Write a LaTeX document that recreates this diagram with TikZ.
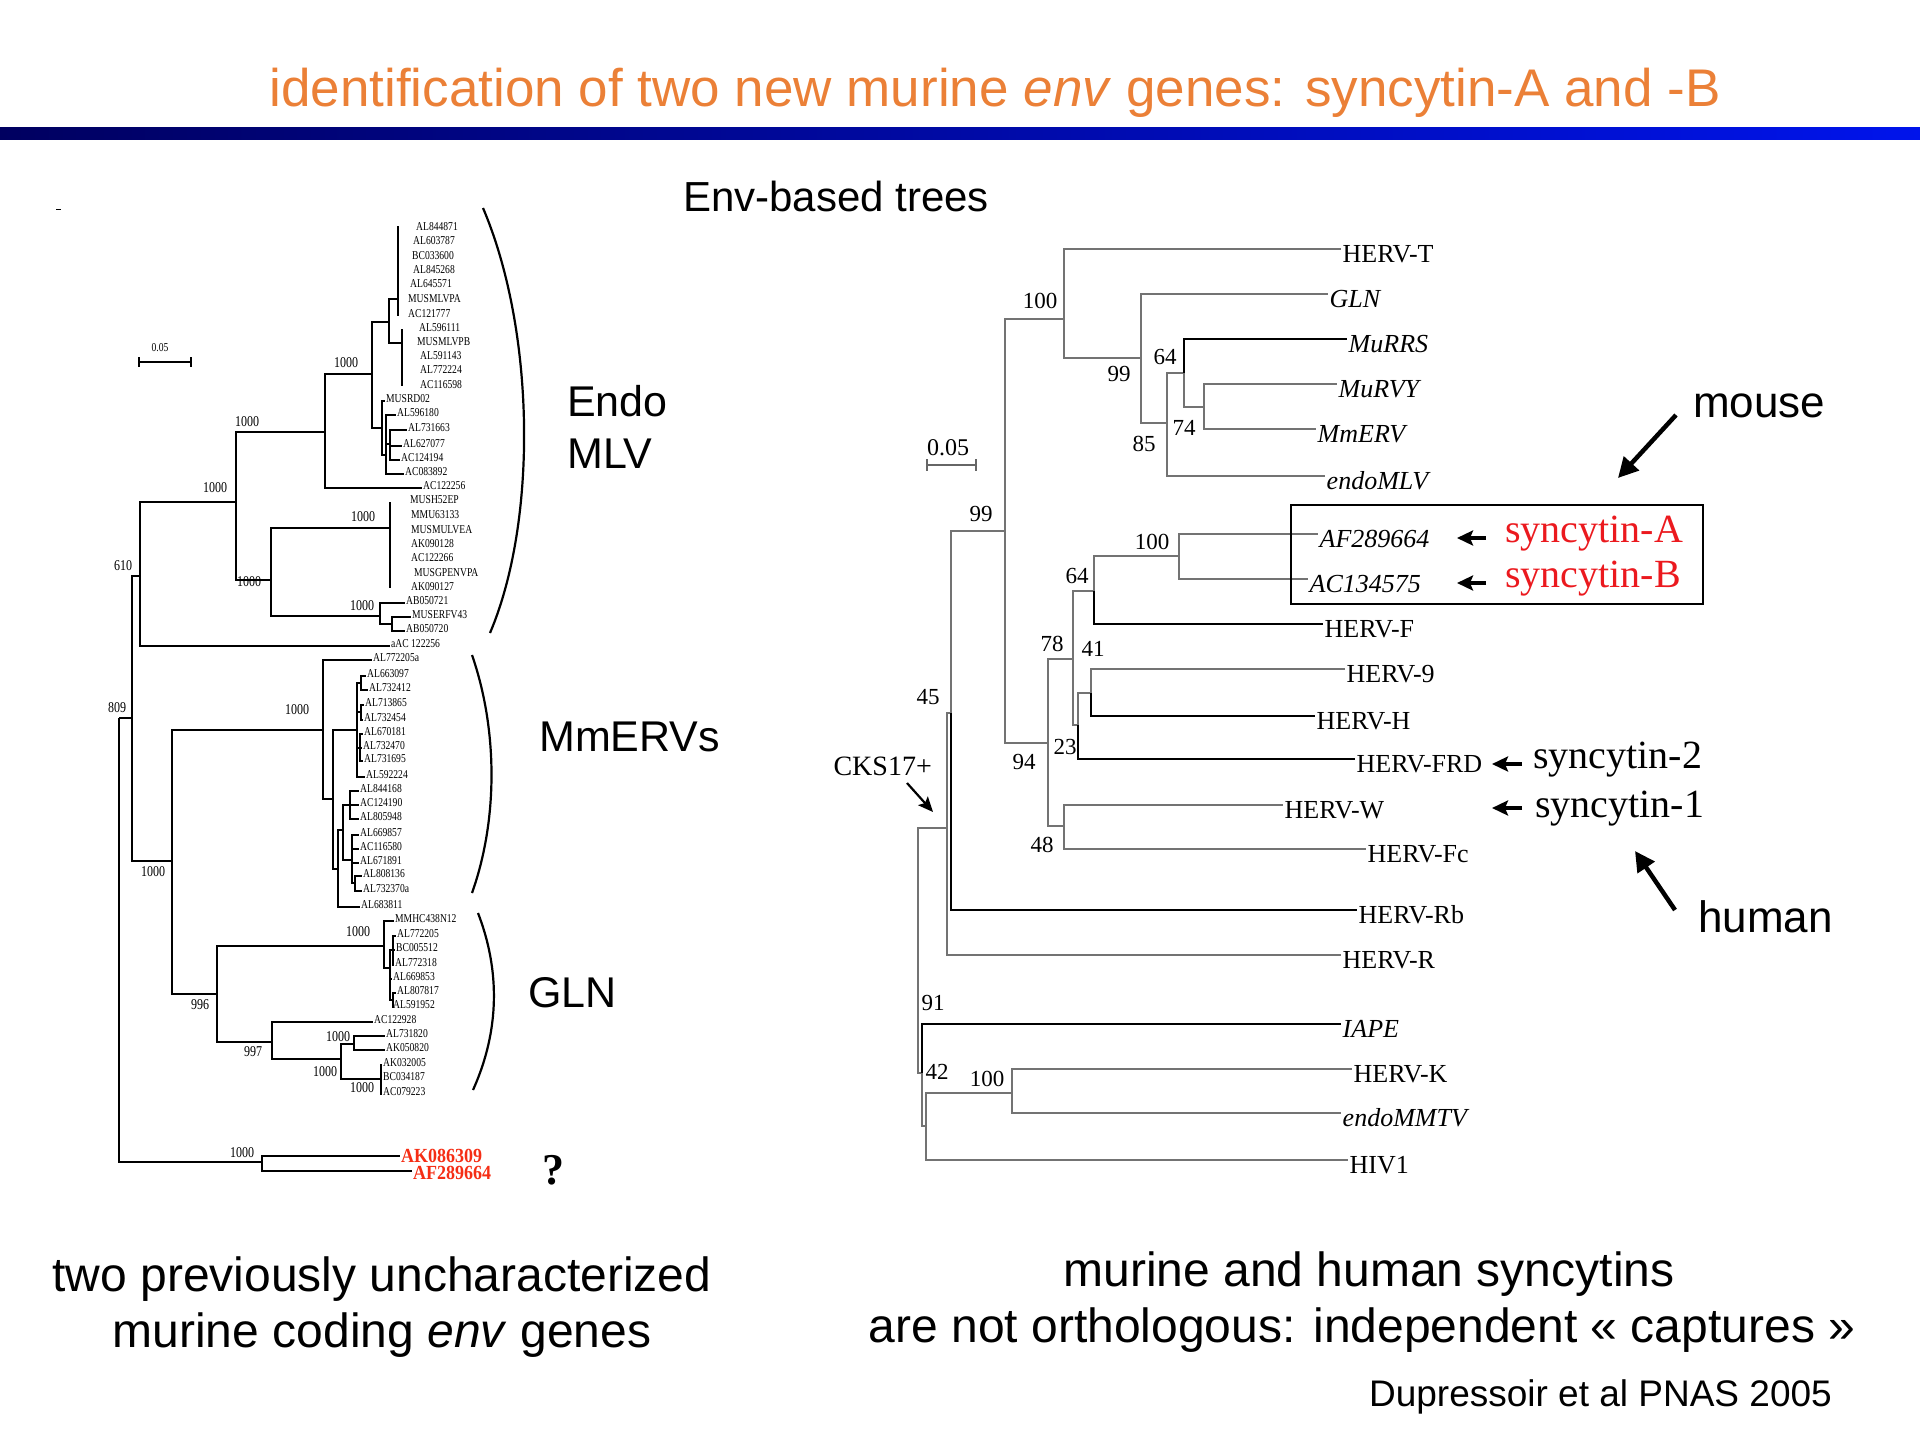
\documentclass[tikz,border=0pt]{standalone}
\usepackage{fontspec}
\setmainfont{Liberation Sans}
\newfontfamily\treefont{Liberation Serif}
\newfontfamily\condfont[FakeStretch=0.8]{Liberation Serif}
\newfontfamily\redfont[FakeStretch=0.9]{Liberation Serif}
\usetikzlibrary{arrows.meta}
\definecolor{titleorange}{RGB}{235,128,55}
\definecolor{barnavy}{RGB}{0,0,96}
\definecolor{barblue}{RGB}{0,20,235}
\definecolor{synred}{RGB}{235,25,30}
\definecolor{accred}{RGB}{245,45,20}
\newcommand{\fsz}[1]{\fontsize{#1}{#1}\selectfont}

\begin{document}
\begin{tikzpicture}[x=1pt, y=-1pt,
    lbranch/.style={line width=1.6pt},
    rbranch/.style={line width=1.4pt, black!55},
    rbranchk/.style={line width=1.4pt, black},
    lleaf/.style={anchor=base west, inner xsep=1pt, inner ysep=0pt, yshift=-1pt, font=\condfont\fsz{12}},
    lboot/.style={inner sep=0pt, font=\condfont\fsz{15}},
    rleaf/.style={anchor=base west, inner xsep=1.5pt, inner ysep=0pt, yshift=-13pt, font=\treefont\fsz{26}},
    rboot/.style={inner sep=0pt, font=\treefont\fsz{23}},
    clade/.style={anchor=base west, inner sep=0pt, font=\fsz{43}},
    syn/.style={anchor=base west, inner sep=0pt, font=\treefont\fsz{40}},
    btxt/.style={anchor=base, inner sep=0pt, font=\fsz{48}},
    sarrow/.style={line width=3.5pt, -{Stealth[length=16pt, width=15pt, inset=3pt]}},
    bigarrow/.style={line width=4.5pt, -{Triangle[length=20pt, width=20pt]}}]
\useasboundingbox (0,0) rectangle (1920,1440);

% title and bar
\node[anchor=base, inner sep=0pt, text=titleorange, font=\fsz{53}] (title) at (995,106)
  {identification of two new murine \textit{env} genes: syncytin-A and -B};
\shade[left color=barnavy, right color=barblue] (0,127) rectangle (1920,139);
\node[anchor=base west, inner sep=0pt, font=\fsz{42}] (envtrees) at (683,211) {Env-based trees};

% ---------- left tree ----------
\draw[line width=0.8pt] (56,209) -- (61,209);
\draw[line width=1.2pt] (139,362) -- (191,362) (139,357) -- (139,367) (191,357) -- (191,367);
\node[inner sep=0pt, font=\condfont\fsz{12}] (lscale) at (160,348) {0.05};

\foreach \n/\x/\y in {lroot/119/718, n809/132/718, nred/262/1162, n610/140/576, nmid/172/861,
    nA/236/502, nB/325/432, nC/271/580, nD/372/374, nE/389/322, nF/382/428, gA1/398/299,
    gA2/402/343, nF2/386/455, nF3/390/444, gB/390/528, nG/380/616, nG2/392/624,
    nMm/323/730, nMm2/333/799, nMm3/357/730, nq1/361/683, nq2/361/712, nq3/360/748,
    nMm4/338/869, nMm5/343/830, nMm6/350/805, nMm7/352/860, nMm8/355/883,
    nGLN/217/994, nG1/384/946, nG3/390/968, nG4/393/950, nG5/393/1000,
    nH/272/1042, nG6/341/1059, nG7/354/1044, nG8/381/1079}
  \coordinate (\n) at (\x,\y);

\foreach \n/\x/\y in {AL844871/416/226, AL603787/413/240, BC033600/412/255, AL845268/413/269,
    AL645571/410/283, MUSMLVPA/408/298, AC121777/408/313, AL596111/419/327, MUSMLVPB/417/341,
    AL591143/420/355, AL772224/420/369, AC116598/420/384, MUSRD02/386/398, AL596180/397/412,
    AL731663/408/427, AL627077/403/443, AC124194/401/457, AC083892/405/471, AC122256/423/485,
    MUSH52EP/410/499, MMU63133/411/514, MUSMULVEA/411/529, AK090128/411/543, AC122266/411/557,
    MUSGPENVPA/414/572, AK090127/411/586, AB050721/406/600, MUSERFV43/412/614, AB050720/406/628,
    AL772205a/373/657, AL663097/367/673, AL732412/369/687, AL713865/365/702, AL732454/364/717,
    AL670181/364/731, AL732470/363/745, AL731695/364/758, AL592224/366/774, AL844168/360/788,
    AC124190/360/802, AL805948/360/816, AL669857/360/832, AC116580/360/846, AL671891/360/860,
    AL808136/363/873, AL732370a/363/888, AL683811/361/904, MMHC438N12/395/918, AL772205/397/933,
    BC005512/396/947, AL772318/395/962, AL669853/393/976, AL807817/397/990, AL591952/393/1004,
    AC122928/374/1019, AL731820/386/1033, AK050820/386/1047, AK032005/383/1062,
    BC034187/383/1076, AC079223/383/1091}
  {\coordinate (\n) at (\x-1,\y+3);
   \node[lleaf] (t\n) at (\n) {\n};}
\coordinate (aAC122256) at (390,646);
\node[lleaf] (taAC122256) at (aAC122256) {aAC 122256};

\draw[lbranch] (398,226) -- (398,316) (402,329) -- (402,386) (390,502) -- (390,588);
\foreach \p/\c in {lroot/n809, n809/n610, n809/nmid, n610/nA, n610/aAC122256, nA/nB, nA/nC,
    nB/nD, nB/AC122256, nD/nE, nD/nF, nE/gA1, nE/gA2, nF/MUSRD02, nF/nF2, nF2/AL596180,
    nF2/nF3, nF2/AC083892, nF3/AL731663, nF3/AL627077, nF3/AC124194, nC/gB, nC/nG,
    nG/AB050721, nG/nG2, nG2/MUSERFV43, nG2/AB050720, nmid/nMm, nmid/nGLN, nMm/AL772205a,
    nMm/nMm2, nMm2/nMm3, nMm2/nMm4, nMm3/nq1, nMm3/nq2, nMm3/nq3, nMm3/AL592224,
    nq1/AL663097, nq1/AL732412, nq2/AL713865, nq2/AL732454, nq3/AL670181, nq3/AL732470,
    nq3/AL731695, nMm4/nMm5, nMm4/AL683811, nMm5/nMm6, nMm5/nMm7, nMm6/AL844168,
    nMm6/AC124190, nMm6/AL805948, nMm7/AL669857, nMm7/AC116580, nMm7/AL671891, nMm7/nMm8,
    nMm8/AL808136, nMm8/AL732370a, nGLN/nG1, nGLN/nH, nG1/MMHC438N12, nG1/nG3, nG3/nG4,
    nG3/AL669853, nG3/nG5, nG4/AL772205, nG4/BC005512, nG4/AL772318, nG5/AL807817,
    nG5/AL591952, nH/AC122928, nH/nG6, nG6/nG7, nG6/nG8, nG7/AL731820, nG7/AK050820,
    nG8/AK032005, nG8/BC034187, nG8/AC079223}
  \draw[lbranch] (\p) |- (\c);

% the two uncharacterized genes
\coordinate (akA) at (400,1156);
\coordinate (afA) at (412,1171);
\draw[lbranch] (lroot) |- (nred);
\draw[lbranch] (nred) |- (akA);
\draw[lbranch] (nred) |- (afA);
\node[anchor=base west, inner xsep=1pt, inner ysep=0pt, yshift=-6pt, text=accred,
  font=\redfont\bfseries\fsz{20}] (tAK086309) at (akA) {AK086309};
\node[anchor=base west, inner xsep=1pt, inner ysep=0pt, yshift=-8pt, text=accred,
  font=\redfont\bfseries\fsz{20}] (tAF289664) at (afA) {AF289664};
\node[inner sep=0pt, font=\treefont\bfseries\fsz{44}] (qmark) at (553,1170) {?};

\foreach \t/\x/\y [count=\i] in {809/117/708, 610/123/566, 1000/215/488, 1000/247/422,
    1000/249/582, 1000/346/363, 1000/363/517, 1000/362/606, 1000/153/872, 1000/297/710,
    996/200/1005, 1000/358/932, 997/253/1052, 1000/338/1037, 1000/325/1072, 1000/362/1088,
    1000/242/1153}
  \node[lboot] (lb\i) at (\x,\y) {\t};

% clade brackets
\draw[line width=2.2pt] (483,208) .. controls (535,330) and (538,520) .. (490,633);
\draw[line width=2.2pt] (472,655) .. controls (498,730) and (498,820) .. (472,893);
\draw[line width=2.2pt] (478,913) .. controls (500,970) and (500,1030) .. (473,1090);
\node[clade] (endo) at (567,416) {Endo};
\node[clade] (mlv) at (567,468) {MLV};
\node[clade] (mmervs) at (539,751) {MmERVs};
\node[clade] (glnc) at (528,1007) {GLN};

% ---------- right tree ----------
\draw[line width=1.3pt, black!60] (927,465) -- (976,465) (927,459) -- (927,471) (976,459) -- (976,471);
\node[rboot, font=\treefont\fsz{24}] (rscale) at (948,448) {0.05};

\foreach \n/\x/\y in {rroot/918/950, n45/947/828, n91/922/1073, n99a/951/713, n99b/1005/531,
    n100a/1064/319, n94/1048/743, n99c/1141/358, n85/1167/423, n64a/1184/373, n74/1204/407,
    n78/1073/659, n48/1064/826, n64b/1094/591, n23/1078/725, n100b/1179/556, n41/1091/693,
    n42/926/1126, n100c/1012/1093}
  \coordinate (\n) at (\x,\y);

\foreach \n/\x/\y/\t in {hervT/1341/249/HERV-T, gln/1328/294/\textit{GLN},
    murrs/1347/339/\textit{MuRRS}, murvy/1337/384/\textit{MuRVY}, mmerv/1316/429/\textit{MmERV},
    endomlv/1325/476/\textit{endoMLV}, af/1318/534/\textit{AF289664}, ac/1308/579/\textit{AC134575},
    hervF/1323/624/HERV-F, herv9/1345/669/HERV-9, hervH/1315/716/HERV-H,
    hervFRD/1355/759/HERV-FRD, hervW/1283/805/HERV-W, hervFc/1366/849/HERV-Fc,
    hervRb/1357/910/HERV-Rb, hervR/1341/955/HERV-R, iape/1341/1024/\textit{IAPE},
    hervK/1352/1069/HERV-K, endommtv/1341/1113/\textit{endoMMTV}, hiv/1348/1160/HIV1}
  {\coordinate (\n) at (\x,\y);
   \node[rleaf] (t\n) at (\n) {\t};}

\foreach \p/\c in {rroot/n45, rroot/n91, n45/n99a, n45/hervR, n99a/n99b, n99b/n100a, n99b/n94,
    n100a/hervT, n100a/n99c, n99c/gln, n99c/n85, n85/n64a, n85/endomlv, n64a/n74, n74/murvy,
    n74/mmerv, n94/n78, n94/n48, n78/n64b, n78/n23, n64b/n100b, n100b/af, n100b/ac, n23/n41,
    n41/herv9, n48/hervW, n48/hervFc, n91/n42, n42/n100c, n42/hiv, n100c/hervK, n100c/endommtv}
  \draw[rbranch] (\p) |- (\c);
\foreach \p/\c in {n99a/hervRb, n64a/murrs, n64b/hervF, n41/hervH, n23/hervFRD, n91/iape}
  \draw[rbranchk] (\p) |- (\c);

\foreach \t/\x/\y [count=\i] in {100/1040/301, 99/1119/374, 85/1144/444, 64/1165/357,
    74/1184/428, 99/981/514, 100/1152/542, 64/1077/576, 78/1052/644, 41/1093/649,
    23/1065/747, 94/1024/762, 48/1042/845, 45/928/697, 91/933/1003, 42/937/1072, 100/987/1079}
  \node[rboot] (rb\i) at (\x,\y) {\t};

% CKS17+ pointer
\node[anchor=base east, inner sep=0pt, font=\treefont\fsz{28}] (cks) at (932,775) {CKS17+};
\coordinate (cks0) at (907,783);
\coordinate (cks1) at (933,812);
\draw[line width=2.2pt, -{Stealth[length=15pt, width=13pt, inset=3pt]}] (cks0) -- (cks1);

% syncytin box and labels
\coordinate (boxA) at (1291,505);
\coordinate (boxB) at (1703,604);
\draw[line width=2pt] (boxA) rectangle (boxB);
\node[syn, text=synred] (syncA) at (1505,542) {syncytin-A};
\node[syn, text=synred] (syncB) at (1505,587) {syncytin-B};
\node[syn] (sync2) at (1533,768) {syncytin-2};
\node[syn] (sync1) at (1535,817) {syncytin-1};
\foreach \n/\xa/\xb/\y in {arA/1486/1457/538, arB/1486/1457/583, ar2/1522/1492/764, ar1/1522/1492/808}
  {\coordinate (\n0) at (\xa,\y);
   \coordinate (\n1) at (\xb,\y);
   \draw[sarrow] (\n0) -- (\n1);}

% mouse / human
\node[anchor=base west, inner sep=0pt, font=\fsz{44}] (mouse) at (1693,417) {mouse};
\node[anchor=base west, inner sep=0pt, font=\fsz{44}] (human) at (1698,932) {human};
\coordinate (ms0) at (1676,415);
\coordinate (ms1) at (1618,478);
\coordinate (hu0) at (1675,910);
\coordinate (hu1) at (1635,851);
\draw[bigarrow] (ms0) -- (ms1);
\draw[bigarrow] (hu0) -- (hu1);

% bottom texts
\node[btxt] (lt1) at (382,1291) {two previously uncharacterized};
\node[btxt] (lt2) at (382,1347) {murine coding \textit{env} genes};
\node[btxt] (rt1) at (1369,1286) {murine and human syncytins};
\node[btxt] (rt2) at (1362,1342) {are not orthologous: independent « captures »};
\node[anchor=base east, inner sep=0pt, font=\fsz{37}] (ref) at (1832,1406) {Dupressoir et al PNAS 2005};
\end{tikzpicture}
\end{document}
